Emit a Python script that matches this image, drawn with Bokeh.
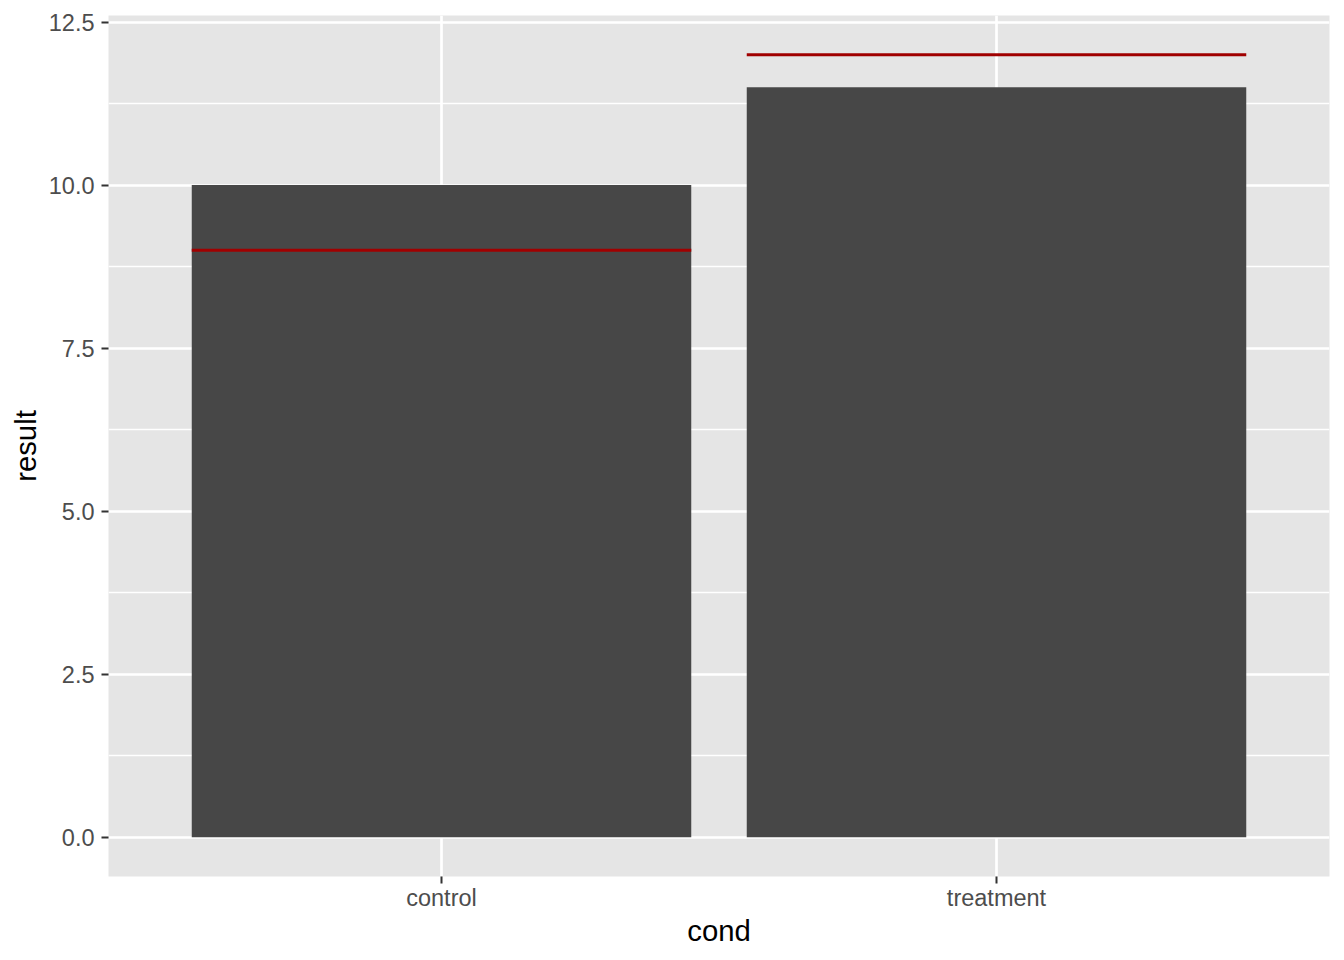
from bokeh.plotting import figure
from bokeh.models import Range1d, FixedTicker, ColumnDataSource
from bokeh.embed import file_html
from bokeh.resources import INLINE

categories = ["control", "treatment"]
result = [10.0, 11.5]
hline = [9.0, 12.0]
y_ticks = [0.0, 2.5, 5.0, 7.5, 10.0, 12.5]
y_minor = [1.25, 3.75, 6.25, 8.75, 11.25]

bar_width = 0.9
xs = [i + 1 for i in range(len(categories))]
src = ColumnDataSource(dict(x=xs, top=result, h=hline,
                            x0=[x - bar_width / 2 for x in xs],
                            x1=[x + bar_width / 2 for x in xs]))

FONT = "Liberation Sans"
p = figure(width=1344, height=960, output_backend="svg", toolbar_location=None,
           x_range=Range1d(0.4, 2.6), y_range=Range1d(-0.6, 12.6))
p.min_border_left = 108
p.min_border_right = 15
p.min_border_top = 15
p.min_border_bottom = 84
p.outline_line_color = None
p.background_fill_color = "#E5E5E5"
p.border_fill_color = "white"

p.vbar(x="x", top="top", bottom=0, width=bar_width, source=src,
       fill_color="#474747", line_color=None)
p.segment(x0="x0", x1="x1", y0="h", y1="h", source=src,
          line_color="#A00000", line_width=3)

# axes
p.xaxis.ticker = FixedTicker(ticks=xs)
p.xaxis.major_label_overrides = {x: c for x, c in zip(xs, categories)}
p.yaxis.ticker = FixedTicker(ticks=y_ticks, minor_ticks=y_minor)
p.yaxis.major_label_overrides = {t: f"{t:.1f}" for t in y_ticks}
p.xaxis.axis_label = "cond"
p.yaxis.axis_label = "result"
for ax in (p.xaxis, p.yaxis):
    ax.axis_line_color = None
    ax.major_tick_line_color = "#333333"
    ax.major_tick_line_width = 2
    ax.major_tick_out = 7
    ax.major_tick_in = 0
    ax.minor_tick_line_color = None
    ax.major_label_text_font = FONT
    ax.major_label_text_font_size = "23.5px"
    ax.major_label_text_color = "#4D4D4D"
    ax.axis_label_text_font = FONT
    ax.axis_label_text_font_size = "29.3px"
    ax.axis_label_text_font_style = "normal"
    ax.axis_label_text_color = "black"
p.xaxis.major_label_standoff = 1
p.xaxis.axis_label_standoff = 0
p.yaxis.major_label_standoff = 7
p.yaxis.axis_label_standoff = 4

# grid
p.xgrid.ticker = FixedTicker(ticks=xs)
p.ygrid.ticker = FixedTicker(ticks=y_ticks, minor_ticks=y_minor)
p.xgrid.grid_line_color = "white"
p.xgrid.grid_line_width = 2.7
p.ygrid.grid_line_color = "white"
p.ygrid.grid_line_width = 2.7
p.ygrid.minor_grid_line_color = "white"
p.ygrid.minor_grid_line_width = 1.3
p.grid.level = "underlay"

open("out.html", "w").write(file_html(p, INLINE))
